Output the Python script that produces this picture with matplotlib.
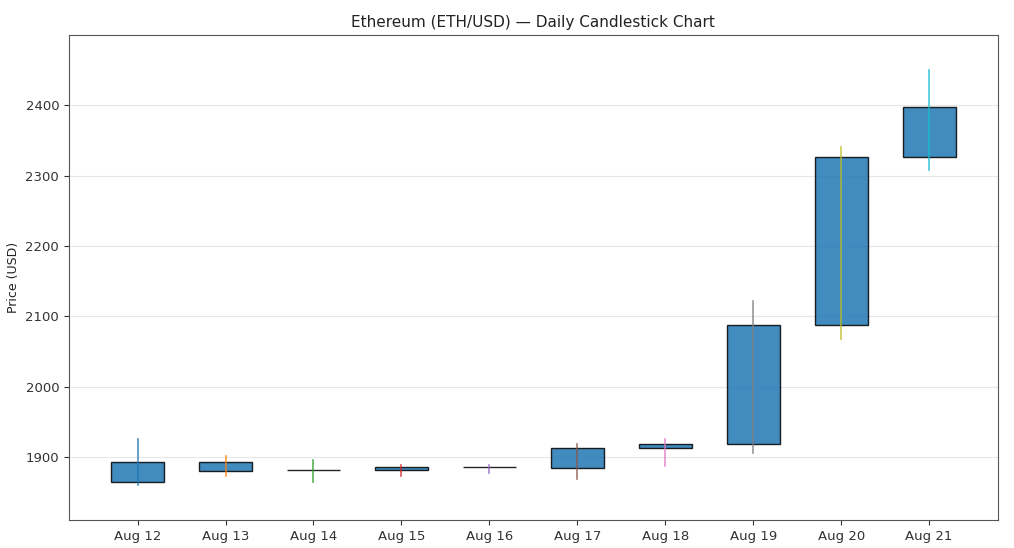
import numpy as np
import matplotlib
matplotlib.use("Agg")
import matplotlib.pyplot as plt

# daily OHLC
dates = ["Aug 12", "Aug 13", "Aug 14", "Aug 15", "Aug 16",
         "Aug 17", "Aug 18", "Aug 19", "Aug 20", "Aug 21"]
opens = [1864, 1893, 1881, 1881, 1885, 1883.5, 1913, 1918, 2087, 2326]
closes = [1893, 1880, 1881, 1886, 1885, 1913, 1918, 2087, 2326, 2397]
highs = [1926, 1901, 1895, 1889, 1888, 1918, 1925, 2122, 2341, 2450]
lows = [1860, 1873, 1864, 1873, 1877, 1869, 1887, 1906, 2068, 2308]

fig, ax = plt.subplots(figsize=(10.14, 5.48), dpi=100)
fig.subplots_adjust(left=0.068, right=0.984, top=0.936, bottom=0.051)

x = np.arange(len(dates))
bottoms = np.minimum(opens, closes)
heights = np.abs(np.array(closes) - np.array(opens))
ax.bar(x, heights, bottom=bottoms, width=0.6, color="#1f77b4", alpha=0.85,
       edgecolor="black", linewidth=1.0, zorder=3)

for i in range(len(dates)):
    # wick, one colour per day from the default cycle, drawn over the body
    ax.plot([x[i], x[i]], [lows[i], highs[i]], linewidth=1.2, alpha=0.8, zorder=4)

ax.set_xticks(x)
ax.set_xticklabels(dates)
ax.set_ylim(1810, 2500)
ax.set_yticks([1900, 2000, 2100, 2200, 2300, 2400])
ax.grid(axis="y", alpha=0.3)
ax.set_axisbelow(True)

for s in ax.spines.values():
    s.set_color("#555555")
ax.tick_params(colors="#333333", labelsize=9.5)

ax.set_title("Ethereum (ETH/USD) \u2014 Daily Candlestick Chart", fontsize=11, color="#222222")
ax.set_ylabel("Price (USD)", fontsize=9, color="#222222")

plt.savefig("out.png", dpi=100)
